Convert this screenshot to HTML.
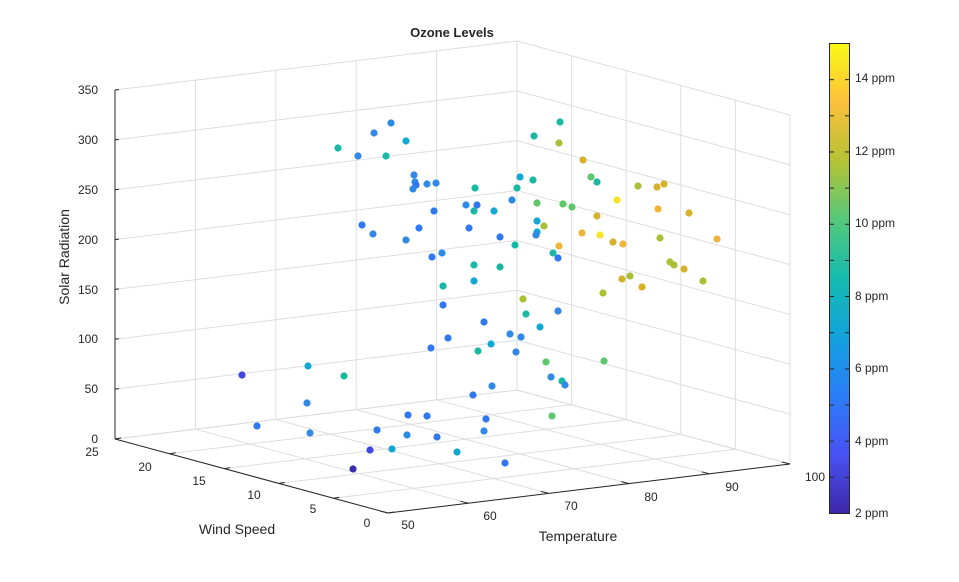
<!DOCTYPE html>
<html><head><meta charset="utf-8"><style>
body{margin:0;background:#fff;width:959px;height:577px;overflow:hidden;font-family:"Liberation Sans",sans-serif}
svg text{font-family:"Liberation Sans",sans-serif;font-size:12px;fill:#262626}
</style></head><body>
<svg id="s" width="959" height="577" xmlns="http://www.w3.org/2000/svg">
<defs><linearGradient id="pg" x1="0" y1="1" x2="0" y2="0">
<stop offset="0" stop-color="#3e26a8"/><stop offset="0.125" stop-color="#4852f4"/><stop offset="0.25" stop-color="#2b7df9"/><stop offset="0.375" stop-color="#12a2dd"/><stop offset="0.5" stop-color="#14bbb0"/><stop offset="0.625" stop-color="#55c97b"/><stop offset="0.75" stop-color="#b5c234"/><stop offset="0.875" stop-color="#fcbf3b"/><stop offset="1" stop-color="#f9fa14"/></linearGradient></defs>
<g id="grid" stroke="#dedede" stroke-width="1" fill="none"></g>
<g id="axes" stroke="#262626" stroke-width="1" fill="none"></g>
<g id="pts"></g>
<text x="452" y="37" text-anchor="middle" style="font-weight:bold;font-size:13px">Ozone Levels</text>
<g text-anchor="end">
<text x="98" y="94">350</text><text x="98" y="144">300</text><text x="98" y="194">250</text><text x="98" y="244">200</text><text x="98" y="294">150</text><text x="98" y="343">100</text><text x="98" y="393">50</text><text x="98" y="443">0</text>
</g>
<g text-anchor="middle">
<text x="92" y="456">25</text><text x="145" y="471">20</text><text x="199" y="485">15</text><text x="254" y="499">10</text><text x="313" y="513">5</text><text x="367" y="527">0</text>
<text x="408" y="529">50</text><text x="490" y="520">60</text><text x="571" y="510">70</text><text x="651" y="501">80</text><text x="732" y="491">90</text><text x="815" y="481">100</text>
</g>
<text x="237" y="534" text-anchor="middle" style="font-size:14px">Wind Speed</text>
<text x="578" y="541" text-anchor="middle" style="font-size:14px">Temperature</text>
<text transform="translate(69,257) rotate(-90)" text-anchor="middle" style="font-size:14px">Solar Radiation</text>
<rect x="829.5" y="43.5" width="20" height="470" fill="url(#pg)" stroke="#262626" stroke-width="1"/>
<g id="cbt" stroke="#262626"></g>
<g>
<text x="855" y="82">14 ppm</text><text x="855" y="155">12 ppm</text><text x="855" y="227">10 ppm</text><text x="855" y="300">8 ppm</text><text x="855" y="372">6 ppm</text><text x="855" y="445">4 ppm</text><text x="855" y="517">2 ppm</text>
</g>
</svg>
<script>
const NS="http://www.w3.org/2000/svg";
const A=[115,439],WV=[273/25,74/25],TV=[402/50,-49/50],ZS=349/350;
function P(w,t,z){return [A[0]+(25-w)*WV[0]+(t-50)*TV[0], A[1]+(25-w)*WV[1]+(t-50)*TV[1]-z*ZS];}
function L(g,p,q){const l=document.createElementNS(NS,'line');l.setAttribute('x1',p[0]);l.setAttribute('y1',p[1]);l.setAttribute('x2',q[0]);l.setAttribute('y2',q[1]);document.getElementById(g).appendChild(l);}
for(let t=50;t<=100;t+=10){L('grid',P(0,t,0),P(25,t,0));L('grid',P(25,t,0),P(25,t,350));}
for(let w=0;w<=25;w+=5){L('grid',P(w,50,0),P(w,100,0));L('grid',P(w,100,0),P(w,100,350));}
for(let z=0;z<=350;z+=50){L('grid',P(25,50,z),P(25,100,z));L('grid',P(25,100,z),P(0,100,z));}
L('axes',P(25,50,0),P(0,50,0));L('axes',P(0,50,0),P(0,100,0));L('axes',P(25,50,0),P(25,50,350));
for(let z=0;z<=350;z+=50){L('axes',P(25,50,z),[P(25,50,z)[0]+4,P(25,50,z)[1]-0.5]);}
for(let t=50;t<=100;t+=10){const p=P(0,t,0);L('axes',p,[p[0]-8,p[1]-2]);}
for(let w=0;w<=25;w+=5){const p=P(w,50,0);L('axes',p,[p[0]+6,p[1]-1]);}
for(let v=2;v<=15;v++){const y=513.5-(v-2)*470/13;L('cbt',[830,y],[834,y]);L('cbt',[845,y],[849,y]);}
const c={i:'#3b2bb0',p:'#4144de',b:'#2f78ef',c:'#11a9d4',t:'#19b8a2',g:'#5ec66b',y:'#a8c035',o:'#f0b43a',d:'#d7b12a',Y:'#f7e525',k:'#2f8ae6'};
const pts=[[338,148,'t'],[374,133,'k'],[391,123,'k'],[358,156,'k'],[386,156,'t'],[406,141,'c'],
[414,175,'k'],[415,182,'k'],[416,185,'b'],[413,189,'k'],[427,184,'k'],[436,183,'k'],[475,188,'t'],[520,177,'c'],[533,180,'t'],[517,188,'t'],[512,200,'k'],[494,211,'c'],[474,211,'t'],[466,205,'k'],[477,205,'b'],[434,211,'b'],[419,228,'b'],[406,240,'k'],[362,225,'b'],[373,234,'k'],[442,253,'k'],[432,257,'b'],[469,228,'b'],[500,237,'b'],[515,245,'t'],[537,203,'g'],[537,221,'c'],[537,232,'c'],[536,235,'k'],[544,226,'y'],[553,253,'t'],[558,258,'b'],[474,265,'t'],[500,267,'t'],[443,286,'t'],[474,281,'c'],[443,305,'b'],[523,299,'y'],[526,314,'t'],[558,311,'k'],[540,327,'c'],[484,322,'b'],[510,334,'k'],[521,337,'k'],[448,338,'b'],[431,348,'b'],[491,344,'c'],[478,351,'t'],[516,352,'k'],[546,362,'g'],[604,361,'g'],[308,366,'c'],[344,376,'t'],[242,375,'p'],[551,377,'k'],[562,381,'t'],[565,385,'k'],[492,386,'k'],[473,395,'b'],[307,403,'k'],[408,415,'b'],[427,416,'b'],[486,419,'b'],[552,416,'g'],[257,426,'b'],[310,433,'k'],[377,430,'b'],[407,435,'k'],[437,437,'b'],[484,431,'k'],[392,449,'c'],[370,450,'p'],[457,452,'c'],[505,463,'b'],[353,469,'i'],
[534,136,'t'],[560,122,'t'],[559,143,'y'],[583,160,'d'],[591,177,'g'],[597,182,'t'],[638,186,'y'],[657,187,'d'],[664,184,'d'],[617,200,'Y'],[563,204,'g'],[572,207,'g'],[597,216,'d'],[658,209,'o'],[689,213,'d'],[600,235,'Y'],[582,233,'o'],[613,242,'d'],[623,244,'o'],[660,238,'y'],[559,246,'o'],[717,239,'o'],[670,262,'y'],[674,265,'y'],[684,269,'d'],[630,276,'y'],[622,279,'d'],[642,287,'d'],[703,281,'y'],[603,293,'y']];
const g=document.getElementById('pts');
for(const [x,y,k] of pts){const e=document.createElementNS(NS,'circle');e.setAttribute('cx',x);e.setAttribute('cy',y);e.setAttribute('r',3.6);e.setAttribute('fill',c[k]);g.appendChild(e);}
</script>
</body></html>
